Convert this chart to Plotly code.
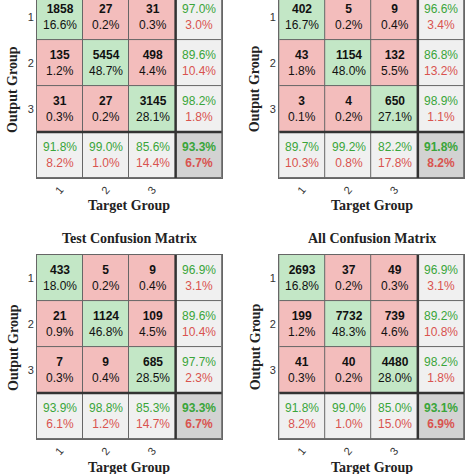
import plotly.graph_objects as go

# four panels: training (top-left), validation (top-right), test, all
titles = ["", "", "Test Confusion Matrix", "All Confusion Matrix"]

counts = [
    [[1858, 27, 31], [135, 5454, 498], [31, 27, 3145]],
    [[402, 5, 9], [43, 1154, 132], [3, 4, 650]],
    [[433, 5, 9], [21, 1124, 109], [7, 9, 685]],
    [[2693, 37, 49], [199, 7732, 739], [41, 40, 4480]],
]
percents = [
    [[16.6, 0.2, 0.3], [1.2, 48.7, 4.4], [0.3, 0.2, 28.1]],
    [[16.7, 0.2, 0.4], [1.8, 48.0, 5.5], [0.1, 0.2, 27.1]],
    [[18.0, 0.2, 0.4], [0.9, 46.8, 4.5], [0.3, 0.4, 28.5]],
    [[16.8, 0.2, 0.3], [1.2, 48.3, 4.6], [0.3, 0.2, 28.0]],
]
row_ok = [[97.0, 89.6, 98.2], [96.6, 86.8, 98.9], [96.9, 89.6, 97.7], [96.9, 89.2, 98.2]]
col_ok = [[91.8, 99.0, 85.6], [89.7, 99.2, 82.2], [93.9, 98.8, 85.3], [91.8, 99.0, 85.0]]
overall = [93.3, 91.8, 93.3, 93.1]
classes = ["1", "2", "3"]

GREEN_TXT = "#3aa53a"
RED_TXT = "#d9534f"
SERIF = "Liberation Serif"
H = 474.0

x_dom = [[0.078, 0.468], [0.589, 0.979], [0.078, 0.468], [0.589, 0.979]]
y_dom = [[0.6245, 1.0], [0.6245, 1.0], [0.0738, 0.462], [0.0738, 0.462]]
y_rng = [[3.5, -0.37], [3.5, -0.37], [3.5, -0.5], [3.5, -0.5]]

fig = go.Figure()
ann = []
shapes = []
for k in range(4):
    xa = "x" if k == 0 else f"x{k+1}"
    ya = "y" if k == 0 else f"y{k+1}"
    z = []
    for i in range(4):
        row = []
        for j in range(4):
            if i < 3 and j < 3:
                row.append(0 if i == j else 1)
            elif i == 3 and j == 3:
                row.append(3)
            else:
                row.append(2)
        z.append(row)
    fig.add_trace(go.Heatmap(
        z=z, x=[0, 1, 2, 3], y=[0, 1, 2, 3], xaxis=xa, yaxis=ya,
        zmin=0, zmax=3, showscale=False, xgap=1, ygap=1, hoverinfo="skip",
        colorscale=[[0, "#c3e7c6"], [0.25, "#c3e7c6"], [0.25, "#f3bdbc"], [0.5, "#f3bdbc"],
                    [0.5, "#f0f0f0"], [0.75, "#f0f0f0"], [0.75, "#d2d2d2"], [1, "#d2d2d2"]],
    ))
    for i in range(3):
        for j in range(3):
            ann.append(dict(x=j, y=i, xref=xa, yref=ya, showarrow=False,
                            text=f"<b>{counts[k][i][j]}</b><br>{percents[k][i][j]:.1f}%",
                            font=dict(size=12, color="#111", family="Arial")))
        r = row_ok[k][i]
        ann.append(dict(x=3, y=i, xref=xa, yref=ya, showarrow=False,
                        text=f"<span style='color:{GREEN_TXT}'>{r:.1f}%</span><br>"
                             f"<span style='color:{RED_TXT}'>{100 - r:.1f}%</span>",
                        font=dict(size=12, family="Arial")))
        c = col_ok[k][i]
        ann.append(dict(x=i, y=3, xref=xa, yref=ya, showarrow=False,
                        text=f"<span style='color:{GREEN_TXT}'>{c:.1f}%</span><br>"
                             f"<span style='color:{RED_TXT}'>{100 - c:.1f}%</span>",
                        font=dict(size=12, family="Arial")))
    o = overall[k]
    ann.append(dict(x=3, y=3, xref=xa, yref=ya, showarrow=False,
                    text=f"<b><span style='color:{GREEN_TXT}'>{o:.1f}%</span><br>"
                         f"<span style='color:{RED_TXT}'>{100 - o:.1f}%</span></b>",
                    font=dict(size=12, family="Arial")))
    # thick separators
    shapes.append(dict(type="line", xref=xa, yref=ya, x0=2.5, x1=2.5, y0=-0.5, y1=3.5,
                       line=dict(color="#333", width=2.5)))
    shapes.append(dict(type="line", xref=xa, yref=ya, x0=-0.5, x1=3.5, y0=2.5, y1=2.5,
                       line=dict(color="#333", width=2.5)))
    ax = dict(domain=x_dom[k], anchor=ya, range=[-0.5, 3.5], tickvals=[0, 1, 2], ticktext=classes,
              tickangle=-50, showgrid=False, zeroline=False, ticks="", showline=True,
              linecolor="#666", mirror=True, automargin=False,
              tickfont=dict(size=11, family="Arial", color="#333"))
    ay = dict(domain=y_dom[k], anchor=xa, range=y_rng[k], tickvals=[0, 1, 2], ticktext=classes,
              showgrid=False, zeroline=False, ticks="", showline=True, linecolor="#666",
              mirror=True, automargin=False, tickfont=dict(size=11, family="Arial", color="#333"))
    fig.update_layout(**{("xaxis" if k == 0 else f"xaxis{k+1}"): ax,
                         ("yaxis" if k == 0 else f"yaxis{k+1}"): ay})
    xc = (x_dom[k][0] + x_dom[k][1]) / 2
    yc = (y_dom[k][0] + y_dom[k][1]) / 2
    ann.append(dict(x=xc, y=y_dom[k][0] - 28 / H, xref="paper", yref="paper", showarrow=False,
                    xanchor="center", yanchor="middle", text="<b>Target Group</b>",
                    font=dict(size=14, family=SERIF, color="#222")))
    ann.append(dict(x=x_dom[k][0] - 24 / H, y=yc, xref="paper", yref="paper", showarrow=False,
                    xanchor="center", yanchor="middle", textangle=-90, text="<b>Output Group</b>",
                    font=dict(size=14, family=SERIF, color="#222")))
    if titles[k]:
        ann.append(dict(x=xc, y=y_dom[k][1] + 17 / H, xref="paper", yref="paper",
                        showarrow=False, xanchor="center", yanchor="middle",
                        text=f"<b>{titles[k]}</b>",
                        font=dict(size=14, family=SERIF, color="#222")))

fig.update_layout(width=474, height=474, margin=dict(l=0, r=0, t=0, b=0),
                  plot_bgcolor="#666", paper_bgcolor="white",
                  annotations=ann, shapes=shapes)
fig.write_html("out.html", config={"displayModeBar": False},
               post_script="document.body.style.margin='0';")
